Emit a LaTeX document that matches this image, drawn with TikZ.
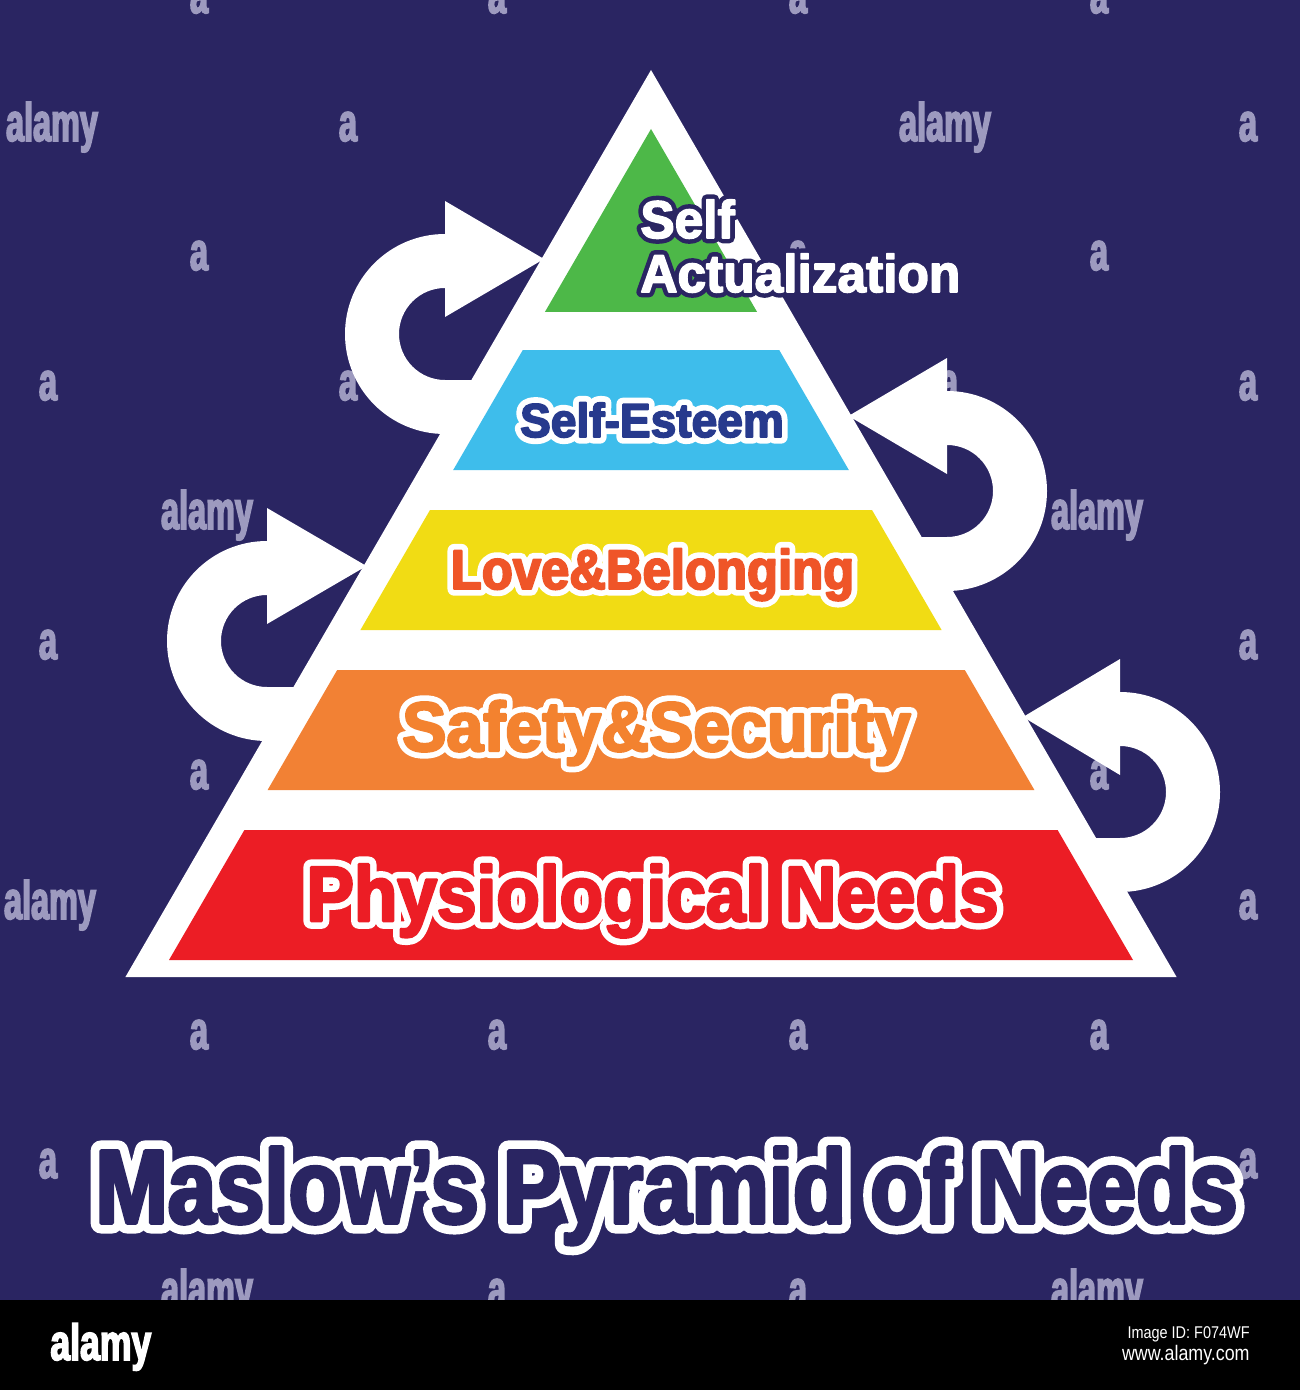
\documentclass[tikz,border=0pt]{standalone}
\usepackage{fontspec}
\setmainfont{Liberation Sans}
\newfontfamily\wmfam{Liberation Sans}[FakeStretch=0.6,BoldFeatures={FakeBold=3}]
\newfontfamily\logofam{Liberation Sans}[FakeStretch=0.7,BoldFeatures={FakeBold=3}]
\newfontfamily\barfam{Liberation Sans}[FakeStretch=0.85]
\newcommand\hf[3]{\fontspec{Liberation Sans}[FakeStretch=#1,BoldFeatures={FakeBold=#2}]\bfseries\fontsize{#3}{#3}\selectfont}
\definecolor{navy}{HTML}{2A2562}
\definecolor{pgreen}{HTML}{4DB848}
\definecolor{pblue}{HTML}{3EBDEB}
\definecolor{pyellow}{HTML}{F1DC14}
\definecolor{porange}{HTML}{F28134}
\definecolor{pred}{HTML}{EC1D25}
\definecolor{tblue}{HTML}{273A8D}
\definecolor{torange}{HTML}{EF5528}
\definecolor{tsafety}{HTML}{F3822F}
\definecolor{wmcol}{HTML}{9D9ABF}
\tikzset{
  larrow/.pic={
    \fill[white] (3,-100) -- (0,-100) arc[start angle=270,end angle=90,radius=100]
      -- (150,100) -- (150,46) -- (0,46) arc[start angle=90,end angle=270,radius=46]
      -- (3,-46) -- cycle;
    \fill[white] (0,-133) -- (#1,-75) -- (0,-17) -- cycle;
  },
  wma/.style={text=wmcol, inner sep=0, anchor=base, font=\wmfam\bfseries\fontsize{27}{27}\selectfont},
  lbl/.style={inner sep=0, anchor=base},
  lblw/.style={inner sep=0, anchor=base west},
}
\begin{document}
\begin{tikzpicture}[x=0.5pt,y=-0.5pt]
\useasboundingbox (0,0) rectangle (1300,1390);
\fill[navy] (0,0) rectangle (1300,1390);
% watermarks (only those not hidden by the pyramid)
\foreach \i/\x/\y in {1/199/13,2/497/13,3/798/13,4/1099/13,
  5/348/141,7/1248/141,
  8/199/270,10/798/270,11/1099/270,
  12/48/400,13/348/400,15/949/400,16/1248/400,
  19/48/659,22/1248/659,
  23/199/789,26/1099/789,
  29/1248/919,
  30/199/1049,31/497/1049,32/798/1049,33/1099/1049,
  34/48/1178,38/1248/1178,
  39/497/1308,40/798/1308}
  \node[wma] (wa\i) at (\x,\y) {a};
\foreach \i/\x/\y in {1/52/141,2/945/141,3/207/529,4/1097/529,
  6/50/919,8/207/1308,9/1097/1308}
  \node[wma] (wl\i) at (\x,\y) {alamy};
% arrows
\pic at (445,334) {larrow=99};
\pic at (267,641) {larrow=99.5};
\pic[xscale=-1] at (947,491) {larrow=98.5};
\pic[xscale=-1] at (1120,792) {larrow=97};
% pyramid
\fill[white] (651,70) -- (1176.6,977) -- (125.4,977) -- cycle;
\fill[pgreen] (651,129) -- (757.1,312) -- (544.9,312) -- cycle;
\fill[pblue] (522.8,350) -- (779.2,350) -- (848.8,470) -- (453.2,470) -- cycle;
\fill[pyellow] (430,510) -- (872,510) -- (941.6,630) -- (360.4,630) -- cycle;
\fill[porange] (337.2,670) -- (964.8,670) -- (1034.4,790) -- (267.6,790) -- cycle;
\fill[pred] (244.4,830) -- (1057.6,830) -- (1133,960) -- (169,960) -- cycle;
% labels: outline layer then fill layer
\begin{scope}[line join=round]
\node[lblw, text=navy, font={\hf{0.97}{20}{26.5}}] (sa1o) at (640,238) {Self};
\node[lblw, text=navy, font={\hf{0.97}{20}{26.5}}] (sa2o) at (640,292) {Actualization};
\node[lblw, text=white, font={\hf{0.97}{3}{26.5}}] (sa1) at (640,238) {Self};
\node[lblw, text=white, font={\hf{0.97}{3}{26.5}}] (sa2) at (640,292) {Actualization};
\node[lbl, text=white, font={\hf{0.97}{28}{23.75}}] (seo) at (652,437) {Self-Esteem};
\node[lbl, text=tblue, font={\hf{0.97}{3.5}{23.75}}] (se) at (652,437) {Self-Esteem};
\node[lbl, text=white, font={\hf{0.91}{24}{27.9}}] (lbo) at (652.5,589) {Love\&Belonging};
\node[lbl, text=torange, font={\hf{0.91}{3.5}{27.9}}] (lb) at (652.5,589) {Love\&Belonging};
\node[lbl, text=white, font={\hf{0.95}{20}{34.9}}] (sso) at (656.5,751) {Safety\&Security};
\node[lbl, text=tsafety, font={\hf{0.95}{3.5}{34.9}}] (ss) at (656.5,751) {Safety\&Security};
\node[lbl, text=white, font={\hf{0.91}{20}{39.1}}] (pno) at (652.5,921) {Physiological Needs};
\node[lbl, text=pred, font={\hf{0.91}{3.5}{39.1}}] (pn) at (652.5,921) {Physiological Needs};
\node[lbl, text=white, font={\hf{0.83}{20}{52.4}}] (titleo) at (666.5,1223) {Maslow’s Pyramid of Needs};
\node[lbl, text=navy, font={\hf{0.83}{3.5}{52.4}}] (title) at (666.5,1223) {Maslow’s Pyramid of Needs};
\end{scope}
% bottom bar
\fill[black] (0,1300) rectangle (1300,1390);
\node[lblw, text=white, font=\logofam\bfseries\fontsize{25.4}{25.4}\selectfont] (logo) at (50,1360) {alamy};
\node[inner sep=0, anchor=base east, text=white, font=\barfam\fontsize{8.5}{8.5}\selectfont] (imgid) at (1250,1338) {Image ID: F074WF};
\node[inner sep=0, anchor=base east, text=white, font=\barfam\fontsize{10.5}{10.5}\selectfont] (www) at (1250,1360) {www.alamy.com};
\end{tikzpicture}
\end{document}
